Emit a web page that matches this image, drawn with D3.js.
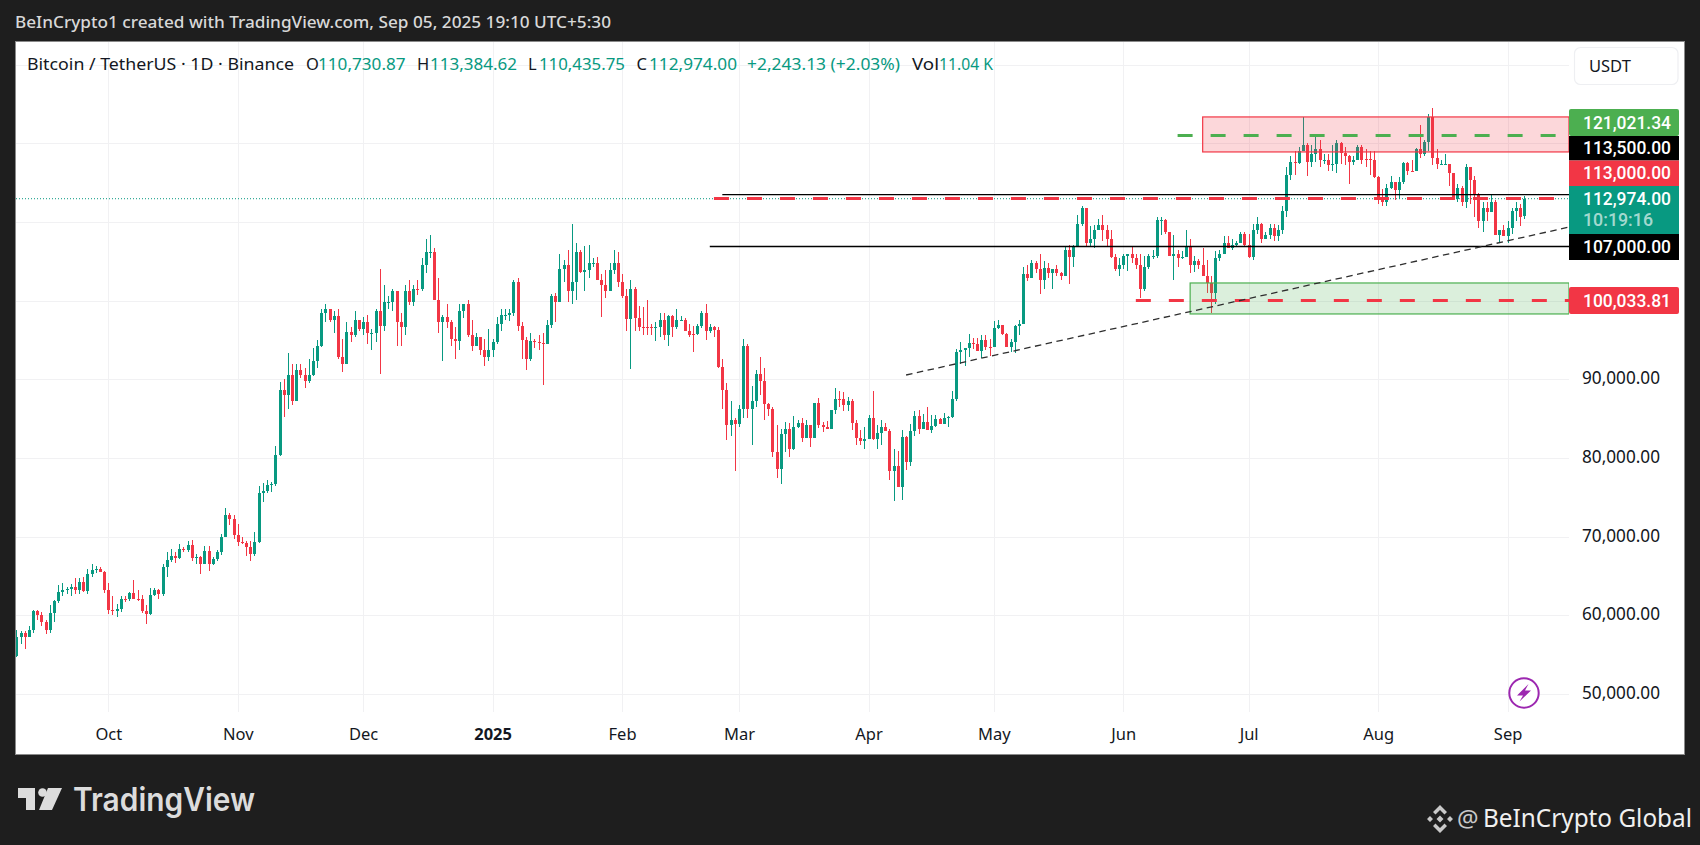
<!DOCTYPE html>
<html><head><meta charset="utf-8">
<script src="https://cdn.jsdelivr.net/npm/d3@7"></script>
<style>html,body{margin:0;padding:0;background:#1e1e1e;overflow:hidden}svg{display:block}text{font-family:"Noto Sans",sans-serif}</style>
</head><body><svg id="c" width="1700" height="845"></svg>
<script>
// Daily candles in thousands of USDT, 9 Sep 2024 .. 5 Sep 2025
const firstDay = "2024-09-09", lastDay = "2025-09-05";
const opens = [54.8,57.2,57.7,57.3,58.2,60.6,60.0,59.1,58.2,60.3,
61.85,63.0,63.25,63.4,63.6,63.25,64.25,63.15,65.2,65.8,
65.9,65.55,63.25,60.7,60.55,60.75,62.1,62.05,62.85,62.1,
62.05,60.6,60.2,62.6,63.25,62.75,66.2,67.1,67.6,67.35,
68.4,68.35,69.0,67.35,67.4,66.55,68.2,66.55,67.2,68.1,
70.0,72.8,72.3,70.25,69.35,69.25,68.7,67.85,69.35,75.6,
75.85,76.6,76.75,80.4,88.7,88.0,90.5,87.3,91.15,90.5,
89.85,90.5,92.4,94.3,98.4,99.0,97.6,98.0,92.9,91.9,
96.0,95.6,97.5,96.35,97.25,95.85,95.95,98.65,96.85,99.8,
99.9,101.2,97.25,96.6,101.2,99.9,101.55,101.45,104.5,106.15,
106.15,100.15,97.35,97.9,97.25,95.1,94.85,98.75,99.55,95.7,
94.3,95.35,93.7,92.8,93.7,94.7,97.1,98.15,98.2,98.4,
102.35,96.85,94.95,92.55,94.85,94.7,94.6,94.45,96.9,100.55,
99.9,104.1,104.6,101.3,102.35,106.25,103.6,103.95,104.85,104.85,
102.6,102.05,101.3,103.85,104.75,102.35,100.55,97.65,101.45,97.75,
96.65,96.6,96.6,96.55,96.6,97.5,95.7,98.0,96.6,97.55,
97.6,96.1,95.8,95.75,96.75,98.4,96.1,96.6,96.25,91.55,
88.6,84.15,84.8,84.3,86.2,94.3,86.2,87.3,90.65,89.85,
86.9,86.2,80.75,78.55,83.0,83.75,81.15,84.0,84.4,82.5,
84.15,82.6,86.95,84.15,83.95,83.75,86.1,87.5,87.45,86.8,
87.3,84.4,82.5,82.2,82.45,85.1,82.45,83.2,83.95,83.5,
78.3,79.05,76.3,82.7,79.55,83.45,85.35,83.7,84.6,83.6,
84.1,85.0,84.35,85.1,85.25,87.5,93.45,93.7,93.95,94.6,
94.55,93.6,95.0,94.15,94.1,96.5,96.9,95.75,94.1,94.7,
96.8,97.0,103.35,102.95,104.85,104.1,102.7,104.2,103.5,104.0,
103.5,103.1,106.5,105.5,106.9,109.7,111.75,107.3,107.8,109.05,
109.6,108.95,107.8,105.5,104.0,104.6,105.75,105.9,105.4,104.6,
101.45,104.35,105.65,105.75,110.2,110.3,108.7,105.65,105.9,105.5,
105.55,106.9,104.6,105.0,104.6,103.2,102.2,100.95,105.4,106.0,
107.4,106.65,107.15,107.4,108.45,107.15,105.5,108.95,109.7,107.9,
108.3,109.3,108.2,109.05,111.35,116.05,117.6,117.5,119.1,119.85,
117.7,118.7,119.25,117.85,117.9,117.2,117.45,120.0,118.75,118.35,
117.6,117.95,119.5,118.0,118.0,117.95,115.7,113.15,112.5,114.3,
115.15,114.05,115.05,117.55,116.55,116.45,119.35,118.6,120.2,123.3,
118.2,117.35,117.4,117.45,116.2,112.9,114.3,112.5,117.05,115.4,
113.4,110.1,111.85,111.25,112.6,108.3,108.95,108.2,109.3,111.35,
111.75,110.73];
const closes = [57.2,57.7,57.3,58.2,60.6,60.0,59.1,58.2,60.3,61.85,
63.0,63.25,63.4,63.6,63.25,64.25,63.15,65.2,65.8,65.9,
65.55,63.25,60.7,60.55,60.75,62.1,62.05,62.85,62.1,62.05,
60.6,60.2,62.6,63.25,62.75,66.2,67.1,67.6,67.35,68.4,
68.35,69.0,67.35,67.4,66.55,68.2,66.55,67.2,68.1,70.0,
72.8,72.3,70.25,69.35,69.25,68.7,67.85,69.35,75.6,75.85,
76.6,76.75,80.4,88.7,88.0,90.5,87.3,91.15,90.5,89.85,
90.5,92.4,94.3,98.4,99.0,97.6,98.0,92.9,91.9,96.0,
95.6,97.5,96.35,97.25,95.85,95.95,98.65,96.85,99.8,99.9,
101.2,97.25,96.6,101.2,99.9,101.55,101.45,104.5,106.15,106.15,
100.15,97.35,97.9,97.25,95.1,94.85,98.75,99.55,95.7,94.3,
95.35,93.7,92.8,93.7,94.7,97.1,98.25,98.2,98.4,102.35,
96.85,94.95,92.55,94.85,94.7,94.6,94.45,96.9,100.55,99.9,
104.1,104.6,101.3,102.35,106.25,103.6,103.95,104.85,104.85,102.6,
102.05,101.3,103.85,104.75,102.35,100.55,97.65,101.45,97.75,96.6,
96.6,96.55,96.55,96.6,97.5,95.7,98.0,96.6,97.6,97.6,
96.1,95.7,95.75,96.75,98.4,96.1,96.6,96.25,91.55,88.6,
84.15,84.8,84.3,86.2,94.3,86.2,87.3,90.65,89.85,86.9,
86.2,80.75,78.55,83.0,83.75,81.15,84.0,84.4,82.5,84.15,
82.6,86.95,84.15,83.95,83.75,86.1,87.5,87.45,86.8,87.3,
84.4,82.5,82.2,82.45,85.1,82.45,83.2,83.95,83.5,78.3,
79.05,76.3,82.7,79.55,83.45,85.35,83.7,84.6,83.6,84.1,
85.0,84.35,85.1,85.25,87.5,93.45,93.7,93.95,94.6,94.5,
93.6,95.0,94.1,94.1,96.5,96.9,95.75,94.1,94.7,96.8,
97.0,103.35,102.95,104.85,104.1,102.7,104.2,103.5,104.0,103.5,
103.1,106.5,105.5,106.9,109.7,111.75,107.3,107.8,109.05,109.6,
108.95,107.8,105.5,104.0,104.6,105.75,105.9,105.4,104.6,101.45,
104.35,105.65,105.75,110.3,110.25,108.7,105.65,105.9,105.4,105.6,
106.9,104.6,105.0,104.6,103.2,102.2,100.95,105.4,106.0,107.4,
106.65,107.15,107.4,108.45,107.15,105.5,108.95,109.7,107.9,108.3,
109.3,108.2,109.05,111.35,116.05,117.6,117.5,119.1,119.85,117.7,
118.7,119.25,117.85,117.9,117.2,117.45,120.0,118.75,118.35,117.6,
117.95,119.5,117.95,117.95,117.95,115.7,113.15,112.5,114.3,115.15,
114.05,115.05,117.55,116.55,116.45,119.35,118.6,120.2,123.3,118.2,
117.35,117.45,117.45,116.2,112.9,114.3,112.5,117.05,115.4,113.4,
110.1,111.85,111.25,112.6,108.3,108.95,108.2,109.3,111.35,111.75,
110.7,112.974];
const highs = [58.2,58.05,58.0,58.7,60.7,60.7,60.4,59.4,61.35,61.9,
63.9,64.15,63.65,64.0,64.8,64.8,64.9,65.9,66.55,66.3,
66.2,65.7,64.15,62.5,61.5,62.5,62.4,63.0,64.55,63.25,
62.65,61.35,63.5,63.5,63.4,66.55,68.0,68.45,68.0,69.1,
68.7,69.5,69.6,67.85,67.6,68.85,68.85,67.45,68.35,70.4,
73.7,73.05,72.8,71.65,70.0,69.5,69.5,70.6,76.5,76.85,
77.25,77.0,81.55,89.7,90.0,93.3,91.9,91.9,91.9,91.5,
92.65,93.95,94.95,99.0,99.65,99.0,98.65,98.9,95.1,97.25,
96.6,98.65,97.5,97.9,98.25,96.35,99.0,104.1,101.95,100.55,
101.45,101.3,98.4,101.95,102.6,101.95,102.7,105.4,107.9,108.4,
106.65,102.85,98.25,99.65,97.5,96.6,99.55,99.65,100.05,97.6,
95.85,95.45,95.1,96.35,95.2,97.9,99.0,98.9,98.9,102.6,
102.85,97.35,95.45,95.95,95.1,95.6,95.95,97.5,100.8,100.95,
105.9,105.15,106.5,109.7,107.3,106.5,106.9,107.15,105.4,105.6,
103.35,103.85,104.85,106.5,106.15,103.35,101.55,102.6,101.8,99.3,
99.15,100.15,97.0,97.35,98.4,98.5,98.25,98.15,98.9,98.0,
97.75,97.1,96.85,97.0,98.75,99.55,97.1,96.75,96.6,92.65,
89.5,87.2,85.15,86.7,95.1,94.45,89.1,91.15,92.9,91.4,
86.95,86.55,84.15,83.75,84.6,84.4,85.4,84.8,85.15,84.8,
84.15,87.05,87.6,84.55,84.65,86.1,88.85,88.55,88.35,87.8,
87.55,84.8,83.6,84.0,85.5,88.55,84.15,84.8,84.4,83.75,
81.2,80.9,83.6,82.85,84.35,86.0,86.1,85.6,86.5,85.5,
85.5,85.1,85.75,85.35,88.5,93.85,94.7,94.0,95.75,95.25,
95.25,95.6,95.6,95.2,97.4,97.5,96.9,95.85,95.2,96.9,
97.6,104.25,104.5,105.15,105.0,105.9,105.0,104.75,104.1,104.6,
103.6,106.8,107.15,107.15,110.85,112.1,111.75,109.45,109.6,110.35,
110.85,109.6,108.95,105.9,105.4,105.9,105.9,106.9,106.0,106.0,
105.75,105.9,106.5,110.6,110.6,110.45,108.7,108.4,106.4,106.3,
109.05,107.8,105.65,105.25,106.65,105.15,103.1,106.3,106.4,108.2,
108.2,107.8,107.65,108.7,108.8,108.45,109.7,110.6,109.85,108.8,
109.7,109.7,109.6,112.1,116.95,118.45,119.0,119.6,123.4,120.0,
119.85,121.0,120.4,118.6,118.6,119.75,120.4,120.15,119.5,118.5,
118.35,119.85,119.85,119.35,119.0,119.0,115.8,114.15,114.8,115.8,
115.15,115.7,117.7,117.7,117.95,119.45,122.4,120.4,123.7,124.55,
119.25,117.95,118.6,117.45,116.3,114.8,114.65,117.45,117.05,115.8,
113.65,112.5,112.5,113.5,112.75,108.95,109.6,110.1,111.85,112.6,
112.25,113.38];
const lows = [54.7,56.4,55.7,57.3,57.75,59.45,58.7,57.6,57.75,59.2,
61.6,62.4,62.75,62.4,62.7,62.75,63.0,62.75,64.9,65.4,
65.5,62.9,60.2,60.1,59.8,60.45,61.75,61.85,62.05,61.85,
60.3,58.95,60.1,62.4,62.1,62.5,64.9,66.8,66.7,67.2,
68.1,68.1,66.95,66.55,65.3,66.55,65.7,66.45,66.95,67.7,
69.9,71.5,69.75,68.85,69.1,67.6,66.95,67.6,69.25,74.45,
75.6,75.7,76.5,80.2,85.2,86.2,86.8,87.2,90.15,88.85,
89.5,90.4,91.5,94.1,97.25,97.25,95.85,92.65,90.9,91.9,
94.7,95.45,96.2,95.7,94.45,93.7,94.7,90.65,96.1,98.9,
98.75,94.2,94.3,95.7,99.4,99.3,100.7,101.3,103.5,105.4,
100.05,95.85,92.3,96.5,94.3,92.65,93.7,97.75,95.35,93.55,
94.2,93.05,91.65,92.35,92.9,94.45,96.2,97.6,97.4,98.0,
96.2,92.55,91.25,92.3,93.95,93.8,89.35,94.45,96.5,97.35,
99.9,102.35,99.8,99.65,100.15,103.5,101.3,102.85,104.25,102.6,
97.9,100.3,101.3,103.35,101.7,100.4,96.2,91.3,96.2,96.2,
95.7,95.7,95.7,94.85,95.35,94.95,94.2,95.35,96.35,97.4,
96.1,95.35,93.45,95.6,96.5,94.95,95.85,95.35,91.4,86.2,
82.35,82.75,78.3,83.9,85.15,85.15,81.6,86.45,88.0,84.8,
85.3,80.1,77.5,76.65,80.75,80.1,81.0,83.8,82.1,82.5,
81.4,82.6,83.8,83.25,83.75,83.75,85.55,86.45,86.0,86.0,
83.6,81.6,81.6,81.15,82.5,82.35,81.15,81.65,83.5,77.2,
74.5,76.3,74.7,78.5,79.05,82.85,83.1,83.7,83.6,83.2,
84.0,84.35,84.35,84.0,85.1,87.2,91.95,91.7,92.8,93.85,
93.6,92.7,93.7,92.95,94.1,96.4,95.7,94.1,93.45,93.3,
95.7,97.0,102.45,102.95,103.5,100.8,101.55,102.95,101.45,103.2,
102.7,103.1,102.1,104.25,106.8,109.55,106.9,106.9,106.65,108.95,
107.55,106.9,105.4,103.75,103.1,104.0,103.75,104.75,104.0,100.4,
101.3,104.1,105.25,105.4,108.4,108.55,105.65,102.7,104.35,105.25,
105.5,103.5,103.6,104.0,103.2,100.95,98.4,99.65,105.0,105.9,
106.65,106.4,106.9,107.3,106.9,105.4,105.15,108.55,107.3,107.9,
107.9,107.65,107.55,108.45,110.6,115.3,116.05,117.35,119.0,115.8,
117.05,117.7,116.95,117.35,116.55,116.55,116.2,117.35,117.3,114.8,
117.2,117.85,117.45,117.05,115.95,115.55,112.25,112.1,112.0,114.15,
112.75,112.9,114.9,115.95,116.4,116.45,118.1,118.35,119.0,117.2,
116.8,117.2,117.2,114.65,112.75,112.6,112.1,111.75,112.25,110.7,
109.3,108.7,110.1,111.25,108.3,107.4,108.2,107.3,108.45,110.1,
109.45,110.44];

// Axis content
const priceGridK = [50,60,70,80,90,100,110,120,130];
const priceTickK = [50,60,70,80,90];
const priceTickLabels = ["50,000.00","60,000.00","70,000.00","80,000.00","90,000.00"];
const monthDates = ["2024-10-01","2024-11-01","2024-12-01","2025-01-01","2025-02-01","2025-03-01","2025-04-01","2025-05-01","2025-06-01","2025-07-01","2025-08-01","2025-09-01"];
const monthLabels = ["Oct","Nov","Dec","2025","Feb","Mar","Apr","May","Jun","Jul","Aug","Sep"];

// Drawings (dates and prices in thousands)
const solidLevels = [{from:"2025-02-25",price:113.5},{from:"2025-02-22",price:106.9}];
const dashedLevels = [{from:"2025-02-23",price:113,color:"#f23645"},{from:"2025-06-14",price:121.02134,color:"#4caf50"},{from:"2025-06-04",price:100.03381,color:"#f23645"}];
const zones = [{from:"2025-06-20",top:123.37,bottom:118.92,stroke:"#f23645",fill:"rgba(242,54,69,0.2)"},{from:"2025-06-17",top:102.26,bottom:98.32,stroke:"#4caf50",fill:"rgba(76,175,80,0.2)"}];
const trendDates = ["2025-04-10","2025-09-16"];
const trendPrices = [90.56,109.4];
const lastPriceK = 112.974;

// Price tags on the scale
const tagTexts = ["121,021.34","113,500.00","113,000.00","112,974.00","107,000.00","100,033.81"];
const tagColors = ["#4caf50","#000000","#f23645","#089981","#000000","#f23645"];
const countdownText = "10:19:16";

// Legend
const legendTitle = "Bitcoin / TetherUS · 1D · Binance";
const legendKeys = ["O","H","L","C"];
const legendVals = ["110,730.87","113,384.62","110,435.75","112,974.00"];
const legendChange = "+2,243.13 (+2.03%)";
const legendVolKey = "Vol", legendVolVal = "11.04 K";
const headerText = "BeInCrypto1 created with TradingView.com, Sep 05, 2025 19:10 UTC+5:30";

// Layout
const W=1700,H=845,frame={l:15,t:41,r:1685,b:755},plotR=1569,plotB=712;
const UP="#089981",DOWN="#f23645",GRID="#f1f1f3",INK="#131722";
const svg=d3.select("#c");
const parse=d3.utcParse("%Y-%m-%d");
const x=d3.scaleUtc().domain([parse(firstDay),parse(lastDay)]).range([16.4,1524.3]);
const y=d3.scaleLinear().domain([50,130]).range([694,64.8]);
const cX=d=>Math.round(x(d));

svg.append("rect").attr("width",W).attr("height",H).attr("fill","#1e1e1e");
svg.append("rect").attr("x",frame.l+.5).attr("y",frame.t+.5).attr("width",frame.r-frame.l-1).attr("height",frame.b-frame.t-1).attr("fill","#fff").attr("stroke","#8a8a8a");
svg.append("text").attr("x",15).attr("y",28).attr("fill","#d8d8d8").attr("font-size",15.5).attr("font-weight",500).attr("textLength",596).attr("lengthAdjust","spacingAndGlyphs").text(headerText);

svg.append("defs").append("clipPath").attr("id","plot").append("rect").attr("x",frame.l+1).attr("y",frame.t+1).attr("width",plotR-frame.l-1).attr("height",plotB-frame.t-1);

// Grid
const grid=svg.append("g").attr("shape-rendering","crispEdges");
grid.selectAll("line.h").data(priceGridK).join("line").attr("x1",frame.l+1).attr("x2",plotR).attr("y1",d=>Math.round(y(d))+.5).attr("y2",d=>Math.round(y(d))+.5).attr("stroke",GRID);
grid.selectAll("line.v").data(monthDates).join("line").attr("y1",frame.t+1).attr("y2",plotB).attr("x1",d=>cX(parse(d))+.5).attr("x2",d=>cX(parse(d))+.5).attr("stroke",GRID);

// Candles
const candles=opens.map((o,i)=>({d:d3.utcDay.offset(parse(firstDay),i),o,c:closes[i],h:highs[i],l:lows[i]}));
const gC=svg.append("g").attr("clip-path","url(#plot)").attr("shape-rendering","crispEdges");
const sel=gC.selectAll("g").data(candles).join("g").attr("fill",d=>d.c>=d.o?UP:DOWN);
sel.append("rect").attr("x",d=>cX(d.d)).attr("width",1).attr("y",d=>Math.round(y(d.h))).attr("height",d=>Math.max(1,Math.round(y(d.l))-Math.round(y(d.h))));
sel.append("rect").attr("x",d=>cX(d.d)-1).attr("width",3).attr("y",d=>Math.round(y(Math.max(d.o,d.c)))).attr("height",d=>Math.max(1,Math.round(y(Math.min(d.o,d.c)))-Math.round(y(Math.max(d.o,d.c)))));

// Drawings
const gD=svg.append("g").attr("clip-path","url(#plot)");
gD.selectAll("rect.z").data(zones).join("rect").attr("class","z").attr("x",d=>x(parse(d.from))).attr("y",d=>y(d.top)).attr("width",d=>plotR-x(parse(d.from))).attr("height",d=>y(d.bottom)-y(d.top)).attr("fill",d=>d.fill).attr("stroke",d=>d.stroke).attr("stroke-width",1.2);
gD.append("line").attr("x1",frame.l+1).attr("x2",plotR).attr("y1",y(lastPriceK)).attr("y2",y(lastPriceK)).attr("stroke",UP).attr("stroke-width",1).attr("stroke-dasharray","1 2");
gD.selectAll("line.s").data(solidLevels).join("line").attr("class","s").attr("x1",d=>x(parse(d.from))).attr("x2",plotR).attr("y1",d=>y(d.price)).attr("y2",d=>y(d.price)).attr("stroke","#000").attr("stroke-width",1.3);
gD.selectAll("line.d").data(dashedLevels).join("line").attr("class","d").attr("x1",d=>x(parse(d.from))).attr("x2",plotR).attr("y1",d=>y(d.price)).attr("y2",d=>y(d.price)).attr("stroke",d=>d.color).attr("stroke-width",3).attr("stroke-dasharray","15 18");
const trendLine=d3.line().x(d=>x(parse(d[0]))).y(d=>y(d[1]));
gD.append("path").attr("d",trendLine(d3.zip(trendDates,trendPrices))).attr("fill","none").attr("stroke","#2e2e2e").attr("stroke-width",1.3).attr("stroke-dasharray","6.5 4.5");

// Axes
const axY=svg.append("g").attr("transform",`translate(${plotR},0)`).call(d3.axisRight(y).tickValues(priceTickK).tickSize(0).tickPadding(13).tickFormat((d,i)=>priceTickLabels[i]));
axY.select(".domain").remove();
axY.selectAll("text").attr("font-size",17.2).attr("fill",INK).style("font-family",'"Noto Sans",sans-serif').attr("dy","0.26em");
const axX=svg.append("g").attr("transform",`translate(0,${plotB})`).call(d3.axisBottom(x).tickValues(monthDates.map(parse)).tickSize(0).tickPadding(16).tickFormat((d,i)=>monthLabels[i]));
axX.select(".domain").remove();
axX.selectAll("text").attr("font-size",16.5).attr("fill",INK).attr("dy","0.71em").style("font-family",'"Noto Sans",sans-serif').attr("font-weight",d=>+d===+parse("2025-01-01")?700:400);

// Price tags
const tagTop=[109,136,160.5,186,234,287],tagBottom=[136,160.5,186,234,260,314];
const gT=svg.append("g");
tagTexts.forEach((t,i)=>{
  gT.append("rect").attr("x",plotR).attr("y",tagTop[i]).attr("width",110).attr("height",tagBottom[i]-tagTop[i]).attr("fill",tagColors[i]).attr("rx",i==0||i==5?2:0);
  const cy=i==3?tagTop[i]+12.5:(tagTop[i]+tagBottom[i])/2;
  gT.append("text").attr("x",1583).attr("y",cy+6.2).attr("fill","#fff").attr("font-size",18).attr("font-weight",500).style("font-family","Roboto,sans-serif").attr("textLength",88).attr("lengthAdjust","spacingAndGlyphs").text(t);
});
gT.append("text").attr("x",1583).attr("y",226).attr("fill","#fff").attr("fill-opacity",.65).attr("font-size",18).attr("font-weight",500).style("font-family","Roboto,sans-serif").attr("textLength",70).attr("lengthAdjust","spacingAndGlyphs").text(countdownText);

// USDT button
svg.append("rect").attr("x",1574.5).attr("y",47.5).attr("width",103.5).attr("height",37).attr("rx",6).attr("fill","#fff").attr("stroke","#eeeff2").attr("stroke-width",1.2);
svg.append("text").attr("x",1589).attr("y",72).attr("fill",INK).attr("font-size",16.5).text("USDT");

// Legend
const lg=svg.append("g").attr("font-size",16.5);
const legY=69.5;
lg.append("text").attr("x",27).attr("y",legY).attr("fill",INK).attr("textLength",267).attr("lengthAdjust","spacingAndGlyphs").text(legendTitle);
const keyX=[306,417,528,636.5],valX=[318,430,539,649],valEnd=[405.6,517,625,737];
legendKeys.forEach((k,i)=>{
  lg.append("text").attr("x",keyX[i]).attr("y",legY).attr("fill",INK).text(k);
  lg.append("text").attr("x",valX[i]).attr("y",legY).attr("fill",UP).attr("textLength",valEnd[i]-valX[i]).attr("lengthAdjust","spacingAndGlyphs").text(legendVals[i]);
});
lg.append("text").attr("x",747).attr("y",legY).attr("fill",UP).attr("textLength",153).attr("lengthAdjust","spacingAndGlyphs").text(legendChange);
lg.append("text").attr("x",912).attr("y",legY).attr("fill",INK).attr("textLength",27).attr("lengthAdjust","spacingAndGlyphs").text(legendVolKey);
lg.append("text").attr("x",939).attr("y",legY).attr("fill",UP).attr("textLength",54).attr("lengthAdjust","spacingAndGlyphs").text(legendVolVal);

// Lightning badge
const cxB=1524,cyB=693;
svg.append("circle").attr("cx",cxB).attr("cy",cyB).attr("r",14.7).attr("fill","#fff").attr("stroke","#9c27b0").attr("stroke-width",2);
svg.append("path").attr("transform",`translate(${cxB},${cyB})`).attr("d","M4.5,-9 L-7,2.5 L-1,2.5 L-4.5,8.5 L7,-2.5 L1,-2.5 Z").attr("fill","#9c27b0");

// TradingView mark
const gL=svg.append("g").attr("fill","#dcdcdc");
gL.append("path").attr("d","M18,788 H35 V810 H26 V798 H18 Z");
gL.append("circle").attr("cx",42.5).attr("cy",792.5).attr("r",4.3);
gL.append("path").attr("d","M48,788 H62 L52,810 H39 Z");
gL.append("text").attr("x",73).attr("y",811).attr("font-size",32).attr("font-weight",600).attr("textLength",182).attr("lengthAdjust","spacingAndGlyphs").style("font-family","Inter,sans-serif").text("TradingView");

// Attribution
const gA=svg.append("g").attr("transform","translate(1440,819)").attr("fill","#c9c9c9");
const sq=(cx,cy,r)=>`M${cx},${cy-r} L${cx+r},${cy} L${cx},${cy+r} L${cx-r},${cy} Z`;
gA.append("path").attr("d",sq(0,0,3.5)+sq(-10,0,3)+sq(10,0,3));
gA.append("path").attr("d","M0,-14 L7,-7 L4.5,-4.5 L0,-9 L-4.5,-4.5 L-7,-7 Z M0,14 L7,7 L4.5,4.5 L0,9 L-4.5,4.5 L-7,7 Z");
svg.append("text").attr("x",1457).attr("y",827).attr("fill","#c9c9c9").attr("font-size",24).text("@");
svg.append("text").attr("x",1483).attr("y",827).attr("fill","#f0f0f0").attr("font-size",24.5).attr("textLength",209).attr("lengthAdjust","spacingAndGlyphs").text("BeInCrypto Global");
</script></body></html>
